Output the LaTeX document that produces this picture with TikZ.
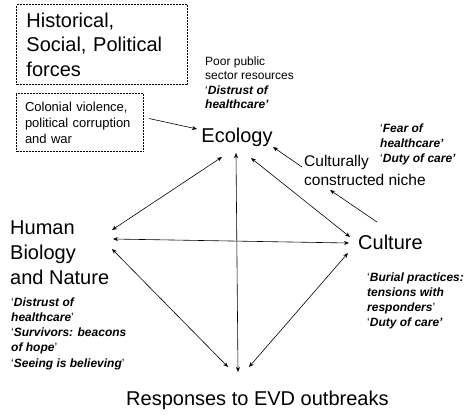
\documentclass[tikz,border=0pt]{standalone}
\usepackage{fontspec}
\setmainfont{Liberation Sans}
\usetikzlibrary{arrows.meta}
\newcommand\qbi[1]{\textbf{\textit{#1}}}
\tikzset{
  lbl/.style={inner sep=0pt, align=left, text=black, anchor=north west},
  bigtxt/.style={font=\fontsize{20}{25}\selectfont},
  qtxt/.style={font=\fontsize{12}{15.2}\selectfont},
  tip/.tip={Stealth[length=5pt,width=4pt]},
  conn/.style={tip-tip, line width=0.6pt, draw=black},
  oneway/.style={-tip, line width=0.6pt, draw=black},
  dbox/.style={draw=black, dash pattern=on 2pt off 1pt, line width=1pt, align=left, anchor=north west, inner ysep=0pt}
}
\begin{document}
\begin{tikzpicture}[x=1pt,y=-1pt]
\useasboundingbox (0,0) rectangle (474,416);
% boxes
\node[dbox, minimum width=171pt, minimum height=80pt, text width=151pt, inner xsep=10pt,
      font=\fontsize{20}{24.5}\selectfont] (hist) at (16,4) {Historical,\\Social, Political\\forces};
\node[dbox, minimum width=127pt, minimum height=58pt, text width=110pt, inner xsep=8.5pt,
      font=\fontsize{13}{16}\selectfont] (col) at (16,93) {Colonial violence,\\\mbox{political corruption}\\and war};
% main concepts
\node[inner sep=0pt, anchor=base, bigtxt] (eco) at (237,142) {Ecology};
\node[lbl, bigtxt] (hum) at (10,220.6) {Human\\Biology\\and Nature};
\node[inner sep=0pt, anchor=base west, bigtxt] (cul) at (358,249) {Culture};
\node[inner sep=0pt, anchor=base west, bigtxt] (resp) at (126,405) {Responses to EVD outbreaks};
\node[lbl, font=\fontsize{15.5}{18.3}\selectfont] (niche) at (304,155.3) {Culturally\\constructed niche};
% annotations
\node[lbl, font=\fontsize{12}{14.4}\selectfont] (poor) at (205,56.4) {Poor public\\sector resources\\‘\qbi{Distrust of}\\\qbi{healthcare’}};
\node[lbl, qtxt] (fear) at (380,123.4) {‘\qbi{Fear of}\\\qbi{healthcare’}\\‘\qbi{Duty of care’}};
\node[lbl, qtxt] (culq) at (367,272.4) {‘\qbi{Burial practices:}\\\qbi{tensions with}\\\qbi{responders}’\\‘\qbi{Duty of care’}};
\node[lbl, qtxt] (humq) at (11,297.4) {‘\qbi{Distrust of}\\\qbi{healthcare}’\\‘\qbi{Survivors: beacons}\\\qbi{of hope}’\\‘\qbi{Seeing is believing}’};
% connectors
\draw[oneway] ([shift={(5,-4)}]col.east) -- ([shift={(-40,-13)}]eco.base);
\draw[conn] ([shift={(-15,15)}]eco.base) -- ([shift={(102,9.4)}]hum.north west);
\draw[conn] ([shift={(-1,11)}]eco.base) -- ([shift={(112,-33)}]resp.base west);
\draw[conn] ([shift={(14,16)}]eco.base) -- ([shift={(-8,-12)}]cul.base west);
\draw[conn] ([shift={(103,18.4)}]hum.north west) -- ([shift={(-9,-6)}]cul.base west);
\draw[conn] ([shift={(102,28.4)}]hum.north west) -- ([shift={(102,-38)}]resp.base west);
\draw[conn] ([shift={(-10,4)}]cul.base west) -- ([shift={(123,-38)}]resp.base west);
\draw[oneway] ([shift={(19,-27)}]cul.base west) -- ([shift={(26,34.7)}]niche.north west);
\draw[oneway] ([shift={(-2,11.7)}]niche.north west) -- ([shift={(36,5)}]eco.base);
\end{tikzpicture}
\end{document}
